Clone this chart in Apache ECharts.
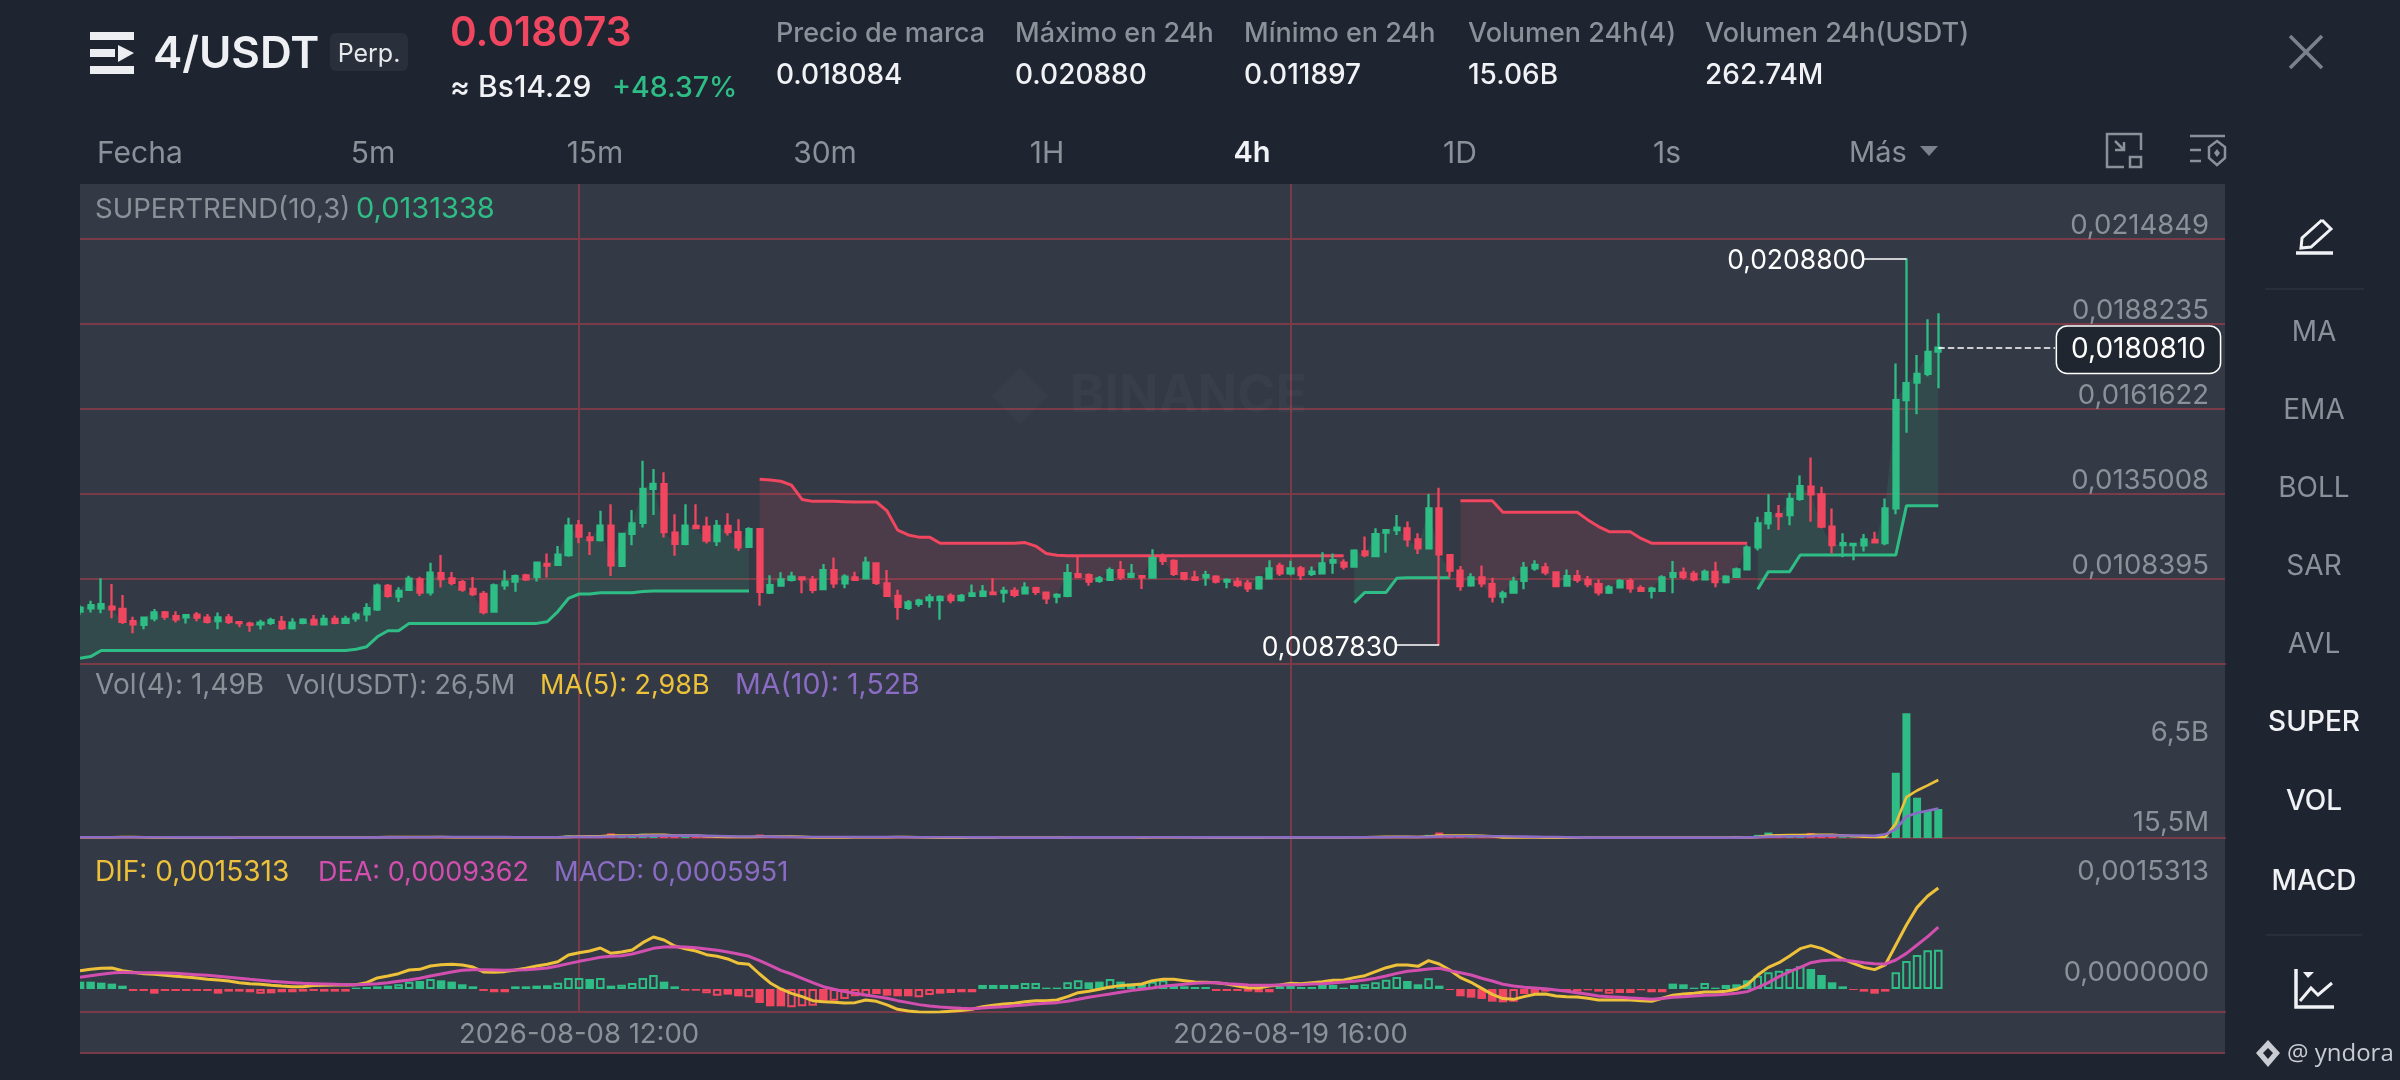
<!DOCTYPE html>
<html><head><meta charset="utf-8">
<style>html,body{margin:0;padding:0;background:#1e2430;}#c{width:2400px;height:1080px;}</style>
<script src="https://cdn.jsdelivr.net/npm/echarts@6/dist/echarts.min.js"></script>
</head><body><div id="c"></div>
<script>
// OHLC in 1e-5 USDT: [open, high, low, close]
const candlesE5 = [
[982,1002,971,994],[992,1016,979,1002],[992,1086,977,1005],[997,1068,961,989],[990,1034,943,950],
[952,966,914,942],[940,964,927,963],[961,990,952,979],[979,984,956,966],[968,983,948,958],
[964,974,945,971],[972,981,952,963],[963,974,945,950],[952,979,927,964],[964,974,943,950],
[949,950,933,946],[944,950,919,940],[942,956,926,947],[947,963,940,955],[950,968,924,930],
[930,961,926,947],[947,961,942,957],[956,971,939,942],[942,972,939,959],[959,970,942,947],
[947,969,945,959],[961,980,950,972],[973,1008,951,993],[989,1070,984,1063],[1062,1068,1025,1031],
[1029,1058,1012,1047],[1050,1094,1047,1085],[1083,1091,1031,1041],[1042,1135,1032,1104],[1102,1159,1057,1084],
[1086,1106,1064,1072],[1074,1081,1044,1051],[1053,1090,1031,1037],[1037,1046,973,980],[982,1070,979,1064],
[1064,1111,1050,1076],[1076,1098,1044,1093],[1095,1100,1078,1083],[1091,1138,1076,1135],[1131,1164,1089,1126],
[1128,1187,1125,1160],[1159,1276,1154,1251],[1252,1269,1196,1217],[1214,1231,1159,1206],[1206,1298,1201,1251],
[1251,1318,1093,1127],[1125,1229,1123,1225],[1225,1300,1190,1258],[1260,1454,1245,1366],[1366,1428,1284,1382],
[1381,1418,1214,1231],[1229,1287,1157,1194],[1194,1318,1190,1251],[1250,1318,1240,1243],[1248,1279,1195,1204],
[1203,1269,1187,1250],[1250,1290,1220,1231],[1231,1271,1172,1183],[1185,1246,1183,1240],[1240,1243,1000,1044],
[1041,1096,1037,1065],[1063,1105,1060,1083],[1081,1107,1076,1091],[1089,1089,1039,1083],[1081,1093,1039,1050],
[1052,1131,1050,1112],[1112,1151,1056,1070],[1070,1099,1055,1091],[1089,1107,1079,1081],[1086,1154,1085,1135],
[1133,1135,1065,1072],[1070,1112,1029,1031],[1031,1050,956,997],[994,1018,987,1011],[1006,1022,997,1016],
[1018,1037,994,1026],[1018,1033,956,1028],[1031,1039,1008,1018],[1018,1037,1013,1031],[1031,1067,1029,1039],
[1031,1065,1029,1044],[1041,1086,1034,1037],[1041,1060,1010,1047],[1047,1058,1027,1034],[1039,1074,1037,1057],
[1055,1060,1034,1044],[1041,1043,1006,1023],[1029,1039,1008,1034],[1031,1131,1027,1102],[1099,1159,1086,1091],
[1096,1102,1063,1076],[1078,1093,1072,1086],[1081,1120,1079,1112],[1112,1140,1081,1089],[1091,1131,1086,1100],
[1093,1094,1053,1089],[1088,1177,1086,1149],[1152,1164,1128,1141],[1141,1146,1093,1100],[1102,1104,1079,1085],
[1089,1110,1078,1081],[1089,1110,1063,1096],[1091,1096,1070,1076],[1076,1086,1055,1081],[1076,1089,1058,1065],
[1070,1081,1043,1055],[1055,1093,1050,1089],[1086,1143,1083,1117],[1125,1135,1093,1102],[1102,1141,1096,1117],
[1117,1125,1081,1096],[1100,1123,1093,1107],[1102,1168,1099,1133],[1135,1164,1100,1143],[1135,1146,1114,1123],
[1123,1177,1120,1173],[1170,1217,1152,1159],[1156,1243,1154,1224],[1229,1240,1166,1237],[1237,1284,1222,1245],
[1242,1264,1185,1208],[1208,1227,1162,1180],[1180,1350,1177,1305],[1305,1370,878,1161],[1159,1162,1089,1110],
[1110,1125,1047,1062],[1064,1102,1060,1089],[1089,1126,1058,1070],[1068,1088,1010,1029],[1029,1047,1008,1039],
[1041,1091,1039,1076],[1078,1137,1052,1119],[1117,1143,1110,1128],[1120,1135,1096,1105],[1105,1107,1058,1062],
[1063,1114,1060,1093],[1093,1112,1072,1081],[1081,1093,1058,1068],[1068,1083,1032,1042],[1041,1065,1037,1058],
[1058,1084,1055,1078],[1078,1086,1041,1055],[1055,1064,1044,1047],[1047,1060,1023,1054],[1047,1096,1043,1089],
[1091,1140,1039,1102],[1104,1120,1083,1091],[1100,1110,1076,1083],[1083,1114,1081,1106],[1106,1138,1058,1074],
[1074,1096,1070,1091],[1091,1120,1089,1114],[1114,1190,1112,1182],[1183,1279,1173,1258],[1258,1349,1240,1290],
[1287,1316,1237,1281],[1284,1354,1252,1335],[1335,1408,1329,1375],[1373,1464,1263,1349],[1349,1373,1243,1248],
[1248,1305,1164,1190],[1190,1227,1152,1196],[1190,1196,1143,1194],[1189,1225,1170,1208],[1206,1232,1196,1199],
[1196,1336,1190,1305],[1305,1759,1287,1644],[1644,2088,1542,1697],[1699,1785,1600,1726],[1726,1897,1719,1795],
[1796,1916,1681,1808]];

// Supertrend in 1e-5 USDT
const superUpE5 = [
836,841,860,860,860,860,860,860,860,860,
860,860,860,860,860,860,860,860,860,860,
860,860,860,860,860,860,864,872,903,922,
922,945,945,945,945,945,945,945,945,945,
945,945,945,945,950,982,1023,1037,1037,1041,
1041,1041,1041,1045,1046,1046,1046,1046,1046,1046,
1046,1046,1046,1046,null,null,null,null,null,null,
null,null,null,null,null,null,null,null,null,null,
null,null,null,null,null,null,null,null,null,null,
null,null,null,null,null,null,null,null,null,null,
null,null,null,null,null,null,null,null,null,null,
null,null,null,null,null,null,null,null,null,null,
1010,1042,1042,1042,1086,1088,1088,1088,1088,1088,
null,null,null,null,null,null,null,null,null,null,
null,null,null,null,null,null,null,null,null,null,
null,null,null,null,null,null,null,null,1052,1107,
1107,1107,1159,1159,1159,1159,1159,1159,1159,1159,
1159,1159,1313,1313,1313,1313];
const superDownE5 = [
null,null,null,null,null,null,null,null,null,null,
null,null,null,null,null,null,null,null,null,null,
null,null,null,null,null,null,null,null,null,null,
null,null,null,null,null,null,null,null,null,null,
null,null,null,null,null,null,null,null,null,null,
null,null,null,null,null,null,null,null,null,null,
null,null,null,null,1396,1394,1390,1378,1333,1327,
1327,1327,1326,1325,1325,1325,1297,1237,1222,1215,
1215,1196,1196,1196,1196,1196,1196,1196,1196,1198,
1187,1164,1158,1157,1157,1157,1157,1157,1157,1157,
1157,1157,1157,1157,1157,1157,1157,1157,1157,1157,
1157,1157,1157,1157,1157,1157,1157,1157,1157,1157,
null,null,null,null,null,null,null,null,null,null,
1329,1329,1329,1329,1293,1293,1293,1293,1293,1293,
1293,1293,1269,1248,1232,1232,1232,1211,1196,1196,
1196,1196,1196,1196,1196,1196,1196,1196,null,null,
null,null,null,null,null,null,null,null,null,null,
null,null,null,null,null,null];

// Volume in billions
const volumes = [
.03,.04,.06,.05,.05,.03,.02,.02,.02,.02,
.02,.02,.02,.02,.02,.01,.02,.02,.01,.02,
.02,.01,.02,.02,.01,.02,.02,.04,.09,.05,
.03,.04,.03,.06,.06,.03,.03,.03,.05,.05,
.04,.03,.02,.05,.04,.05,.14,.12,.06,.09,
.24,.12,.07,.22,.16,.20,.08,.09,.05,.05,
.05,.04,.05,.05,.18,.05,.03,.02,.03,.03,
.05,.05,.03,.02,.05,.04,.04,.09,.03,.02,
.02,.03,.02,.02,.02,.02,.02,.02,.02,.02,
.02,.02,.02,.09,.06,.03,.02,.03,.04,.03,
.03,.06,.04,.04,.02,.02,.02,.02,.02,.02,
.02,.03,.05,.03,.03,.03,.02,.05,.04,.03,
.06,.06,.06,.05,.06,.05,.04,.16,.28,.08,
.05,.03,.03,.03,.02,.03,.03,.02,.02,.03,
.03,.02,.02,.03,.02,.02,.02,.01,.02,.03,
.03,.02,.02,.02,.03,.02,.03,.05,.16,.28,
.13,.13,.13,.26,.13,.11,.04,.03,.02,.02,
.08,3.35,6.41,2.07,1.40,1.49];
const volMa5 = [
.04,.04,.04,.04,.05,.05,.04,.03,.03,.02,
.02,.02,.02,.02,.02,.02,.02,.02,.02,.02,
.02,.02,.02,.02,.02,.02,.02,.02,.04,.05,
.05,.05,.05,.05,.05,.04,.04,.04,.04,.04,
.04,.04,.04,.04,.04,.04,.06,.08,.09,.09,
.12,.13,.13,.15,.16,.17,.13,.12,.12,.09,
.07,.06,.05,.05,.07,.07,.07,.07,.06,.03,
.03,.03,.03,.04,.04,.04,.04,.05,.05,.04,
.03,.02,.02,.02,.02,.02,.02,.02,.02,.02,
.02,.02,.02,.03,.04,.04,.04,.04,.04,.04,
.03,.04,.04,.04,.04,.03,.03,.02,.02,.02,
.02,.02,.03,.03,.03,.03,.03,.03,.03,.03,
.04,.04,.05,.06,.06,.06,.05,.07,.12,.12,
.13,.12,.11,.09,.03,.03,.03,.03,.02,.02,
.03,.02,.02,.02,.02,.02,.02,.02,.02,.02,
.02,.02,.02,.02,.02,.02,.03,.03,.05,.13,
.14,.15,.15,.17,.17,.16,.13,.10,.07,.05,
.05,.74,2.1,2.44,2.7,2.98];
const volMa10 = [
.04,.04,.04,.04,.04,.04,.04,.04,.04,.03,
.03,.03,.03,.03,.03,.02,.02,.02,.02,.02,
.02,.02,.02,.02,.02,.02,.02,.02,.03,.03,
.03,.04,.04,.04,.05,.05,.05,.05,.05,.05,
.05,.04,.04,.04,.04,.04,.05,.06,.06,.06,
.08,.09,.10,.11,.12,.13,.12,.12,.12,.11,
.10,.09,.08,.08,.08,.07,.06,.05,.05,.05,
.05,.05,.05,.05,.05,.05,.05,.05,.04,.04,
.04,.04,.04,.04,.03,.03,.03,.02,.02,.02,
.02,.02,.02,.03,.03,.03,.03,.03,.03,.03,
.04,.04,.04,.04,.03,.03,.03,.03,.03,.03,
.03,.03,.03,.03,.03,.03,.03,.03,.03,.03,
.03,.04,.04,.04,.05,.05,.05,.06,.08,.09,
.09,.09,.09,.09,.09,.08,.07,.06,.05,.05,
.04,.03,.02,.02,.02,.02,.02,.02,.02,.02,
.02,.02,.02,.02,.02,.02,.02,.03,.04,.07,
.08,.09,.09,.10,.12,.13,.13,.13,.13,.11,
.19,.45,1.1,1.28,1.4,1.52];

// MACD in 1e-6
const difE6 = [
278,298,313,318,278,253,232,222,207,192,
182,167,146,136,121,96,81,71,56,45,
35,35,51,56,61,61,66,96,167,197,
232,288,298,348,369,374,364,333,258,253,
263,288,313,348,374,414,515,550,576,621,
540,561,591,702,788,742,651,611,576,520,
495,455,389,374,227,91,0,-66,-116,-177,
-192,-202,-212,-207,-167,-187,-242,-308,-333,-348,
-354,-348,-338,-328,-308,-268,-247,-227,-217,-192,
-177,-177,-167,-116,-56,-35,-5,30,51,61,
76,126,146,146,126,106,101,96,76,45,
20,15,45,61,86,81,96,111,131,136,
172,202,263,323,364,364,343,429,379,288,
172,101,10,-81,-146,-157,-116,-81,-76,-106,
-116,-121,-141,-167,-167,-167,-167,-177,-187,-141,
-96,-76,-66,-45,-45,-35,-5,61,212,328,
399,500,611,657,616,540,455,389,328,293,
364,667,970,1237,1409,1531];
const deaE6 = [
177,202,222,242,253,247,247,247,242,237,
227,217,207,192,177,162,146,131,116,106,
96,86,81,76,71,66,66,71,81,96,
116,136,162,197,227,258,283,293,293,288,
283,288,293,303,318,348,384,419,449,480,
495,505,530,571,616,636,641,636,626,606,
586,561,530,495,429,359,283,227,162,96,
35,-5,-40,-66,-91,-116,-141,-177,-207,-237,
-258,-273,-283,-293,-298,-288,-278,-268,-253,-242,
-227,-217,-207,-187,-157,-126,-101,-76,-51,-25,
-5,15,40,56,71,86,96,96,81,71,
61,56,56,61,66,66,76,81,91,106,
116,136,162,197,237,268,283,303,313,278,
247,212,162,121,71,45,25,15,5,-15,
-35,-56,-81,-106,-116,-126,-136,-146,-157,-146,
-126,-116,-106,-96,-91,-81,-66,-40,25,96,
187,263,328,399,429,439,439,419,399,384,
379,439,540,667,793,936];
const macdE6 = [
111,111,96,81,50,-30,-30,-71,-30,-30,
-30,-30,-30,-71,-40,-40,-50,-71,-66,-50,
-50,-40,-30,-40,-40,-40,20,30,40,50,
71,111,121,151,131,111,71,40,-30,-50,
-50,40,40,50,56,96,167,167,151,167,
50,66,91,167,212,111,40,-25,-25,-66,
-101,-86,-111,-126,-212,-263,-263,-278,-263,-253,
-202,-177,-151,-111,-111,-76,-101,-111,-111,-126,
-91,-71,-61,-50,-50,61,61,61,61,91,
91,20,20,101,131,101,111,151,111,86,
71,111,131,71,40,30,30,-30,-30,-30,
-40,-50,-50,40,50,30,30,61,61,20,
61,71,101,141,182,121,71,162,50,-15,
-111,-131,-151,-192,-202,-192,-76,-61,-40,-30,
-40,-40,-20,-40,-71,-61,-61,-20,-50,-50,
81,71,20,91,20,61,71,131,202,253,
278,303,343,303,212,101,40,-15,-40,-71,
-40,253,424,515,586,595];
const macdHollow = [17,30,31,33,45,46,47,49,51,52,53,54,59,60,63,67,68,69,71,72,73,74,79,80,89,90,93,94,97,101,102,120,121,122,123,124,127,135,140,141,144,153,158,159,160,161,162,171,172,173,174,175];

const priceTicks = [0.0214849,0.0188235,0.0161622,0.0135008,0.0108395];
const macdTicks = [0.0015313,0];
const volTickLabels = ['6,5B','15,5M'];
const dateLabels = {47:'2026-08-08 12:00',114:'2026-08-19 16:00'};
const lastPrice = 0.018081, maxPrice = 0.02088, minPrice = 0.008783;

const GREEN='#2ebd85', RED='#f0465f', YEL='#eec13a', PINK='#d24fb0', PUR='#8a6cc4';
const GRID='#7a3b48', GREY='#8b9099', FONT='Inter', BG='#1e2430';
const SLOTS = 203;
const cats = Array.from({length:SLOTS},(_,i)=>new Date(Date.UTC(2026,6,31,16)+i*4*3600e3).toISOString());
const comma = (v,d)=>v.toFixed(d).replace('.',',');
const px = v=>v==null?null:v/1e5;
const ohlc = candlesE5.map(([o,h,l,c])=>[o/1e5,c/1e5,l/1e5,h/1e5]);
const closes = candlesE5.map(r=>r[3]/1e5);

const chart = echarts.init(document.getElementById('c'),null,{renderer:'canvas'});

function xAxisOf(idx,showLabel){return {
  type:'category',gridIndex:idx,data:cats,boundaryGap:false,
  axisLine:{show:true,onZero:false,lineStyle:{color:GRID,width:2}},axisTick:{show:false},
  splitLine:{show:true,interval:(i)=>dateLabels[i]!==undefined,lineStyle:{color:GRID,width:2}},
  axisLabel:{show:showLabel,interval:(i)=>dateLabels[i]!==undefined,formatter:(v,i)=>dateLabels[i]||'',color:GREY,fontFamily:FONT,fontSize:27.5,margin:9,hideOverlap:false}
};}
function fillPolygon(arr,color){return {
  type:'custom',xAxisIndex:0,yAxisIndex:0,silent:true,z:1,clip:true,
  data:(function(){const s=[];let st=null;arr.forEach((v,i)=>{if(v!=null&&st===null)st=i;if(st!==null&&(v==null||i===arr.length-1)){s.push([st,v==null?i-1:i]);st=null;}});return s;})(),
  encode:{x:0,y:[]},
  renderItem(p,api){const a=api.value(0),b=api.value(1),pts=[];
    for(let i=a;i<=b;i++)pts.push(api.coord([i,arr[i]/1e5]));
    for(let i=b;i>=a;i--)pts.push(api.coord([i,closes[i]]));
    return {type:'polygon',shape:{points:pts},style:{fill:color}};}
};}

const T=[];
function t(text,x,y,size,fill,weight,align,fam){T.push({type:'text',silent:true,z:50,style:{text,x,y,fill,font:`${weight||400} ${size}px ${fam||FONT}`,textAlign:align||'left',textVerticalAlign:'middle'}});}
function poly(points,opt){T.push({type:'polyline',silent:true,z:50,shape:{points},style:Object.assign({fill:null,stroke:'#8b9099',lineWidth:3},opt||{})});}
function shape(points,fill){T.push({type:'polygon',silent:true,z:50,shape:{points},style:{fill}});}
function box(x,y,w,h,fill,r){T.push({type:'rect',silent:true,z:50,shape:{x,y,width:w,height:h,r:r>0?r:0},style:{fill}});}

// bottom date strip and the left mask that trims half-bars at the panel edge
T.push({type:'rect',silent:true,z:-1,shape:{x:80,y:1012,width:2145,height:41},style:{fill:'#343a45'}});
T.push({type:'rect',silent:true,z:40,shape:{x:80,y:1052,width:2145,height:2},style:{fill:GRID}});
T.push({type:'rect',silent:true,z:40,shape:{x:60,y:184,width:20,height:870},style:{fill:BG}});

// header
box(90,32,44,8,'#eceef2');box(90,49,25,8,'#eceef2');shape([[118,45],[134,53],[118,62]],'#eceef2');box(90,66,44,8,'#eceef2');
t('4/USDT',153,55,44,'#eef0f4',600);
box(330,33,78,38,'#2a303b',6);t('Perp.',369,54,25,'#e6e8ec',400,'center');
t('0.018073',450,34,40.5,RED,600);
t('≈ Bs14.29',450,88,30,'#f1f2f5',500);
t('+48.37%',612,88,28.5,GREEN,500);
[['Precio de marca','0.018084',776],['Máximo en 24h','0.020880',1015],['Mínimo en 24h','0.011897',1244],['Volumen 24h(4)','15.06B',1468],['Volumen 24h(USDT)','262.74M',1705]]
 .forEach(([a,b,x])=>{t(a,x,33.5,27,GREY,500);t(b,x,75.5,28,'#f1f2f5',500);});
poly([[2290,36],[2322,68]],{lineWidth:3.5,stroke:'#7c828d'});poly([[2322,36],[2290,68]],{lineWidth:3.5,stroke:'#7c828d'});

// timeframe row
t('Fecha',97,153.5,30,GREY);
[['5m',373],['15m',595],['30m',825],['1H',1047],['1D',1460],['1s',1667]].forEach(([a,x])=>t(a,x,153.5,30,GREY,400,'center'));
t('4h',1252,153.5,29,'#f1f2f5',600,'center');
t('Más',1849,153.5,29,GREY);
shape([[1920,146],[1938,146],[1929,156]],'#7c828d');
poly([[2141,150],[2141,134],[2107,134],[2107,167],[2124,167]],{lineWidth:2.5});
T.push({type:'rect',silent:true,z:50,shape:{x:2130,y:157,width:11,height:10},style:{fill:null,stroke:'#8b9099',lineWidth:2.5}});
poly([[2115,141],[2124,150]],{lineWidth:2.5});poly([[2115,150],[2124,150],[2124,142]],{lineWidth:2.5});
poly([[2190,136],[2225,136]],{lineWidth:2.5});poly([[2190,150],[2201,150]],{lineWidth:2.5});poly([[2190,161],[2201,161]],{lineWidth:2.5});
T.push({type:'polygon',silent:true,z:50,shape:{points:[[2217,141],[2225,147],[2225,158],[2217,165],[2209,158],[2209,147]]},style:{fill:null,stroke:'#8b9099',lineWidth:2.5}});
shape([[2217,149],[2220,153],[2217,157],[2214,153]],'#8b9099');

// legends
t('SUPERTREND(10,3)',95,209.5,27.6,GREY);t('0,0131338',356,209.5,29,GREEN);
t('Vol(4): 1,49B',95,685.5,28,GREY);t('Vol(USDT): 26,5M',286,685.5,27,GREY);t('MA(5): 2,98B',540,685.5,27,YEL);t('MA(10): 1,52B',735,685.5,28.5,PUR);
t('DIF: 0,0015313',95,872.5,28,YEL);t('DEA: 0,0009362',318,872.5,27,PINK);t('MACD: 0,0005951',554,872.5,27.3,PUR);
t(volTickLabels[0],2209,733,27.5,GREY,400,'right');t(volTickLabels[1],2209,823,27.5,GREY,400,'right');

// watermark
t('BINANCE',1070,396,52,'rgba(255,255,255,0.028)',700);
shape([[1020,368],[1048,396],[1020,424],[992,396]],'rgba(255,255,255,0.022)');

// sidebar
poly([[2296,253],[2333,253]],{stroke:'#f1f2f5',lineWidth:3.5});
poly([[2322,220],[2331,229],[2311,247],[2301,248],[2302,238],[2322,220]],{stroke:'#f1f2f5',lineWidth:3});
poly([[2265,289],[2364,289]],{stroke:'#2d333e',lineWidth:1.5});
[['MA',332.5],['EMA',410.5],['BOLL',488.5],['SAR',566.5],['AVL',644.5]].forEach(([a,y])=>t(a,2314,y,28,GREY,400,'center'));
[['SUPER',722.5],['VOL',801.5],['MACD',881.5]].forEach(([a,y])=>t(a,2314,y,28,'#f1f2f5',500,'center'));
poly([[2266,935],[2362,935]],{stroke:'#2d333e',lineWidth:1.5});
poly([[2296,969],[2296,1007],[2334,1007]],{stroke:'#f1f2f5',lineWidth:3.5});
poly([[2300,1001],[2311,988],[2318,995],[2332,983]],{stroke:'#f1f2f5',lineWidth:3});
shape([[2303,972],[2314,972],[2308,978]],'#f1f2f5');
shape([[2268,1040],[2280,1053],[2268,1067],[2256,1053]],'#c9ccd2');
shape([[2268,1048],[2273,1053],[2268,1059],[2263,1053]],BG);
t('@ yndora',2287,1054,24,'#c9ccd2',400,'left','Open Sans');

chart.setOption({
  animation:false,backgroundColor:BG,
  grid:[
    {left:80,width:2145,top:184,height:480,show:true,backgroundColor:'#343a45',borderWidth:0},
    {left:80,width:2145,top:664,height:174,show:true,backgroundColor:'#343a45',borderWidth:0},
    {left:80,width:2145,top:838,height:174,show:true,backgroundColor:'#343a45',borderWidth:0}
  ],
  xAxis:[xAxisOf(0,false),xAxisOf(1,false),xAxisOf(2,true)],
  yAxis:[
    {type:'value',gridIndex:0,position:'right',min:0.0081781,max:0.023207,scale:true,axisLine:{show:false},axisTick:{show:false},splitLine:{show:false},
     axisLabel:{inside:true,customValues:priceTicks,formatter:v=>comma(v,7),color:GREY,fontFamily:FONT,fontSize:27.5,margin:16,verticalAlign:'bottom',lineHeight:27}},
    {type:'value',gridIndex:1,position:'right',min:0,max:8.94,axisLine:{show:false},axisTick:{show:false},splitLine:{show:false},axisLabel:{show:false}},
    {type:'value',gridIndex:2,position:'right',min:-0.000349,max:0.002289,scale:true,axisLine:{show:false},axisTick:{show:false},splitLine:{show:false},
     axisLabel:{inside:true,customValues:macdTicks,formatter:v=>comma(v,7),color:GREY,fontFamily:FONT,fontSize:27.5,margin:16,verticalAlign:'bottom',lineHeight:32}}
  ],
  graphic:{elements:T},
  series:[
    {type:'custom',xAxisIndex:0,yAxisIndex:0,silent:true,z:0,data:priceTicks.map(v=>[v]),encode:{x:[],y:0},
     renderItem(p,api){const v=api.value(0),a=api.coord([0,v]),b=api.coord([SLOTS-1,v]);
       return {type:'line',shape:{x1:a[0],y1:a[1],x2:b[0],y2:b[1]},style:{stroke:GRID,lineWidth:2}};}},
    fillPolygon(superUpE5,'rgba(46,189,133,0.13)'),
    fillPolygon(superDownE5,'rgba(240,70,95,0.13)'),
    {type:'line',xAxisIndex:0,yAxisIndex:0,data:superUpE5.map(px),connectNulls:false,showSymbol:false,z:3,silent:true,lineStyle:{color:GREEN,width:3},itemStyle:{color:GREEN}},
    {type:'line',xAxisIndex:0,yAxisIndex:0,data:superDownE5.map(px),connectNulls:false,showSymbol:false,z:3,silent:true,lineStyle:{color:RED,width:3},itemStyle:{color:RED}},
    {type:'candlestick',xAxisIndex:0,yAxisIndex:0,data:ohlc,barWidth:5.6,z:4,silent:true,
     itemStyle:{color:GREEN,color0:RED,borderColor:GREEN,borderColor0:RED,borderWidth:2.3},
     markLine:{silent:true,symbol:'none',animation:false,
       lineStyle:{color:'#ffffff',width:1.6,type:'solid'},
       label:{show:true,position:'end',color:'#ffffff',fontFamily:FONT,fontSize:26.5,distance:0,offset:[2,3]},
       data:[
         [{coord:[172,maxPrice],label:{formatter:comma(maxPrice,7)}},{coord:[168,maxPrice]}],
         [{coord:[128,minPrice],label:{formatter:comma(minPrice,7)}},{coord:[124,minPrice]}],
         [{coord:[175,lastPrice],lineStyle:{type:'dashed',width:1.6},label:{formatter:comma(lastPrice,7),fontSize:28,lineHeight:28,backgroundColor:'#20262f',borderColor:'#ffffff',borderWidth:1.5,borderRadius:10,padding:[9,14],distance:2,offset:[0,2]}},{coord:[186,lastPrice]}]
       ]}},
    {type:'bar',xAxisIndex:1,yAxisIndex:1,barWidth:8,z:2,silent:true,
     data:volumes.map((v,i)=>({value:v,itemStyle:{color:candlesE5[i][3]>=candlesE5[i][0]?GREEN:RED}}))},
    {type:'line',xAxisIndex:1,yAxisIndex:1,data:volMa5,showSymbol:false,z:3,silent:true,lineStyle:{color:YEL,width:2.6}},
    {type:'line',xAxisIndex:1,yAxisIndex:1,data:volMa10,showSymbol:false,z:4,silent:true,lineStyle:{color:PUR,width:2.6}},
    {type:'bar',xAxisIndex:2,yAxisIndex:2,barWidth:8.5,z:2,silent:true,
     data:macdE6.map((v,i)=>{const c=v>=0?GREEN:RED,h=macdHollow.includes(i);
       return {value:v/1e6,itemStyle:h?{color:'rgba(0,0,0,0)',borderColor:c,borderWidth:2}:{color:c}};})},
    {type:'line',xAxisIndex:2,yAxisIndex:2,data:difE6.map(v=>v/1e6),showSymbol:false,z:3,silent:true,lineStyle:{color:YEL,width:3}},
    {type:'line',xAxisIndex:2,yAxisIndex:2,data:deaE6.map(v=>v/1e6),showSymbol:false,z:4,silent:true,lineStyle:{color:PINK,width:3}}
  ]
});
</script></body></html>
